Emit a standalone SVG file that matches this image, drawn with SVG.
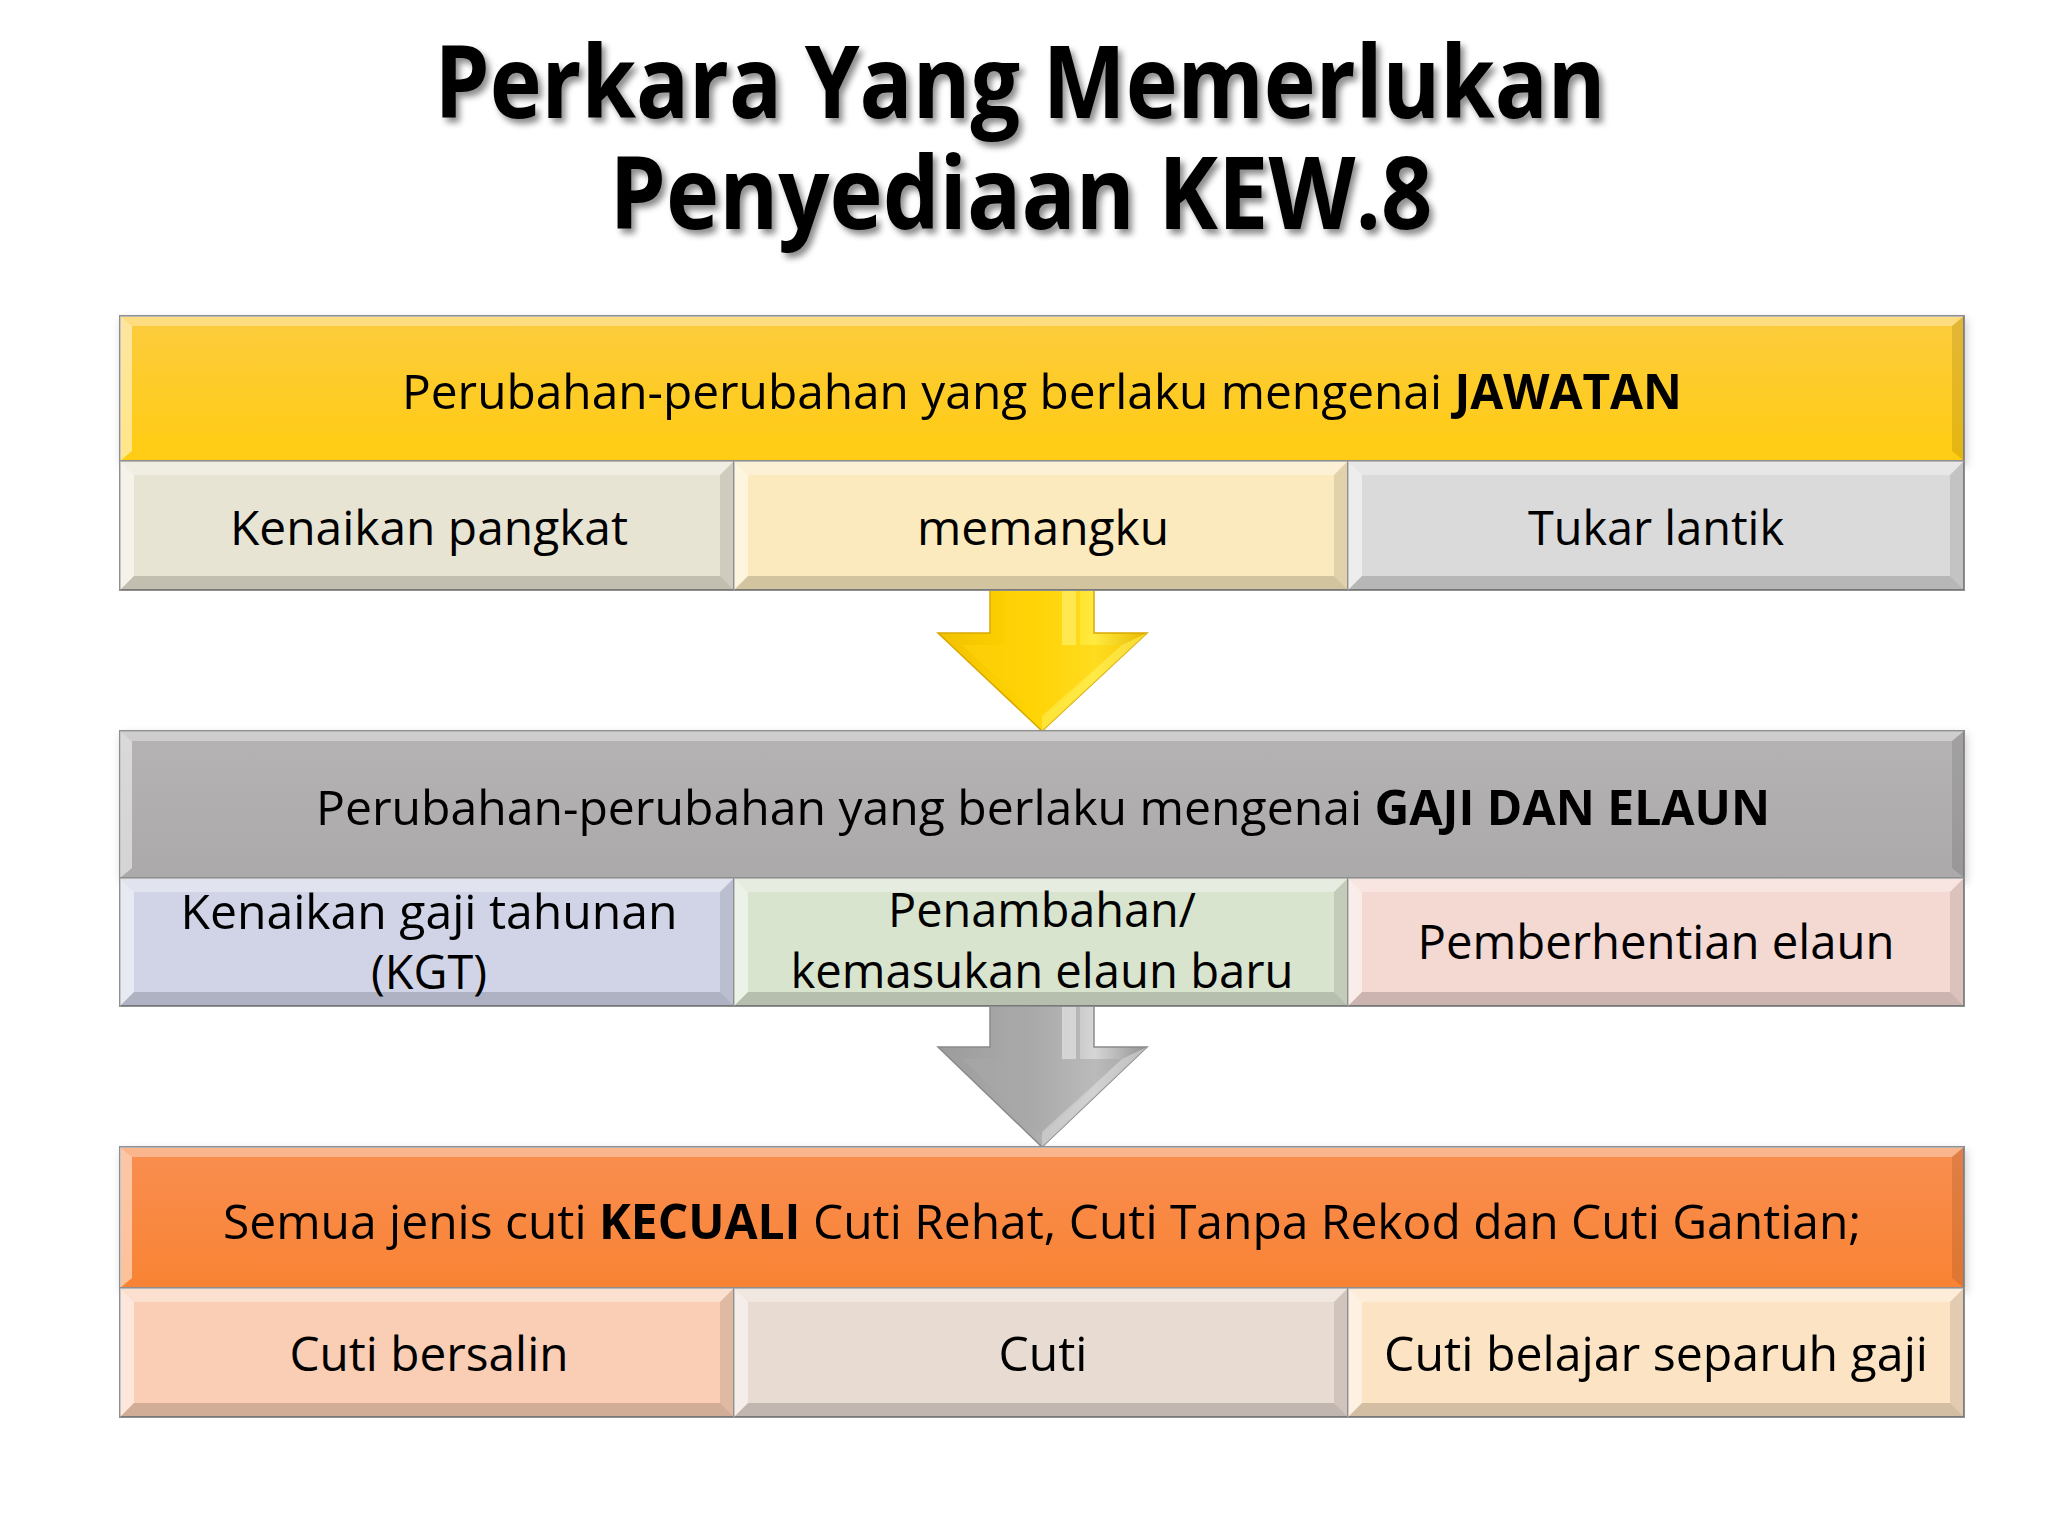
<svg xmlns="http://www.w3.org/2000/svg" width="2048" height="1536" viewBox="0 0 2048 1536">
<defs>
<style>
.title{font-family:"Open Sans","Noto Sans",sans-serif;font-weight:bold;font-size:100px;fill:#000;text-anchor:middle}
.t{font-family:"Open Sans","Noto Sans",sans-serif;font-size:48px;fill:#000;text-anchor:middle}
.b{font-weight:bold}
.bt{fill:#fff;fill-opacity:0.35}
.bl{fill:#fff;fill-opacity:0.5}
.br{fill:#000;fill-opacity:0.1}
.bb{fill:#000;fill-opacity:0.16}
.cell{stroke:#8f8f8f;stroke-width:2}
</style>
<linearGradient id="gY" x1="0" y1="0" x2="0" y2="1"><stop offset="0" stop-color="#FCCB3E"/><stop offset="1" stop-color="#FFCC11"/></linearGradient>
<linearGradient id="gG" x1="0" y1="0" x2="0" y2="1"><stop offset="0" stop-color="#B5B3B3"/><stop offset="1" stop-color="#ABA9A9"/></linearGradient>
<linearGradient id="gO" x1="0" y1="0" x2="0" y2="1"><stop offset="0" stop-color="#F98E50"/><stop offset="1" stop-color="#F98334"/></linearGradient>
<linearGradient id="aY" x1="0" y1="0" x2="1" y2="0"><stop offset="0" stop-color="#F2C200"/><stop offset="0.45" stop-color="#FFD400"/><stop offset="0.75" stop-color="#FFEA40"/><stop offset="1" stop-color="#E8B800"/></linearGradient>
<linearGradient id="aG" x1="0" y1="0" x2="1" y2="0"><stop offset="0" stop-color="#9C9C9C"/><stop offset="0.45" stop-color="#AAAAAA"/><stop offset="0.75" stop-color="#D6D6D6"/><stop offset="1" stop-color="#929292"/></linearGradient>
<filter id="ts" x="-5%" y="-20%" width="110%" height="140%"><feDropShadow dx="4" dy="5" stdDeviation="3" flood-color="#000" flood-opacity="0.45"/></filter>
<filter id="bs" x="-2%" y="-5%" width="104%" height="115%"><feDropShadow dx="2" dy="4" stdDeviation="4" flood-color="#000" flood-opacity="0.18"/></filter>
</defs>
<rect width="2048" height="1536" fill="#fff"/>

<g id="title" filter="url(#ts)">
<text class="title" x="1020" y="118" textLength="1171" lengthAdjust="spacingAndGlyphs">Perkara Yang Memerlukan</text>
<text class="title" x="1021" y="229" textLength="823" lengthAdjust="spacingAndGlyphs">Penyediaan KEW.8</text>
</g>

<g id="connectors">
<g id="arrow1">
<polygon points="990,590 1094,590 1094,633 1147,633 1042,731 938,633 990,633" fill="url(#aY)" stroke="#D9A800" stroke-width="1.5"/>
<polygon points="1004,590 1080,590 1080,645 1122,645 1042,720 962,645 1004,645" fill="#FFD20A" fill-opacity="0.6"/>
<rect x="1062" y="590" width="14" height="55" fill="#FFF06A" fill-opacity="0.7"/>
<polygon points="1122,645 1147,633 1042,731 1042,716" fill="#FFE94A" fill-opacity="0.7"/>
</g>
<g id="arrow2">
<polygon points="990,1006 1094,1006 1094,1047 1147,1047 1042,1147 938,1047 990,1047" fill="url(#aG)" stroke="#8a8a8a" stroke-width="1.5"/>
<polygon points="1004,1006 1080,1006 1080,1059 1122,1059 1042,1136 962,1059 1004,1059" fill="#A9A9A9" fill-opacity="0.6"/>
<rect x="1062" y="1006" width="14" height="53" fill="#E2E2E2" fill-opacity="0.7"/>
<polygon points="1122,1059 1147,1047 1042,1147 1042,1132" fill="#D0D0D0" fill-opacity="0.7"/>
</g>
</g>

<!-- Section 1 -->
<g id="jawatan" filter="url(#bs)">
<rect class="cell" x="120" y="316" width="1844" height="145" fill="url(#gY)" stroke="#d9a520"/>
<polygon class="bt" points="120,316 1964,316 1952,326 132,326"/>
<polygon class="bl" points="120,316 132,326 132,451 120,461"/>
<polygon class="br" points="1964,316 1964,461 1952,451 1952,326"/>
<text class="t" x="1042" y="409" textLength="1280" lengthAdjust="spacingAndGlyphs">Perubahan-perubahan yang berlaku mengenai <tspan class="b">JAWATAN</tspan></text>
</g>
<g id="kenaikan-pangkat">
<rect class="cell" x="120" y="461" width="614" height="129" fill="#E8E4D3"/>
<polygon class="bt" points="120,461 734,461 720,475 134,475"/>
<polygon class="bl" points="120,461 134,475 134,576 120,590"/>
<polygon class="br" points="734,461 734,590 720,576 720,475"/>
<polygon class="bb" points="120,590 734,590 720,576 134,576"/>
<text class="t" x="429" y="545" textLength="398" lengthAdjust="spacingAndGlyphs">Kenaikan pangkat</text>
</g>
<g id="memangku">
<rect class="cell" x="734" y="461" width="614" height="129" fill="#FCEABF"/>
<polygon class="bt" points="734,461 1348,461 1334,475 748,475"/>
<polygon class="bl" points="734,461 748,475 748,576 734,590"/>
<polygon class="br" points="1348,461 1348,590 1334,576 1334,475"/>
<polygon class="bb" points="734,590 1348,590 1334,576 748,576"/>
<text class="t" x="1043" y="545" textLength="252" lengthAdjust="spacingAndGlyphs">memangku</text>
</g>
<g id="tukar-lantik">
<rect class="cell" x="1348" y="461" width="616" height="129" fill="#DADADA"/>
<polygon class="bt" points="1348,461 1964,461 1950,475 1362,475"/>
<polygon class="bl" points="1348,461 1362,475 1362,576 1348,590"/>
<polygon class="br" points="1964,461 1964,590 1950,576 1950,475"/>
<polygon class="bb" points="1348,590 1964,590 1950,576 1362,576"/>
<text class="t" x="1656" y="545" textLength="256" lengthAdjust="spacingAndGlyphs">Tukar lantik</text>
</g>

<!-- Section 2 -->
<g id="gaji-elaun" filter="url(#bs)">
<rect class="cell" x="120" y="731" width="1844" height="147" fill="url(#gG)"/>
<polygon class="bt" points="120,731 1964,731 1952,741 132,741"/>
<polygon class="bl" points="120,731 132,741 132,868 120,878"/>
<polygon class="br" points="1964,731 1964,878 1952,868 1952,741"/>
<text class="t" x="1043" y="825" textLength="1454" lengthAdjust="spacingAndGlyphs">Perubahan-perubahan yang berlaku mengenai <tspan class="b">GAJI DAN ELAUN</tspan></text>
</g>
<g id="kgt">
<rect class="cell" x="120" y="878" width="614" height="128" fill="#D1D4E7"/>
<polygon class="bt" points="120,878 734,878 720,892 134,892"/>
<polygon class="bl" points="120,878 134,892 134,992 120,1006"/>
<polygon class="br" points="734,878 734,1006 720,992 720,892"/>
<polygon class="bb" points="120,1006 734,1006 720,992 134,992"/>
<text class="t" x="429" y="929" textLength="497" lengthAdjust="spacingAndGlyphs">Kenaikan gaji tahunan</text>
<text class="t" x="429" y="989" textLength="116" lengthAdjust="spacingAndGlyphs">(KGT)</text>
</g>
<g id="elaun-baru">
<rect class="cell" x="734" y="878" width="614" height="128" fill="#D9E4CF"/>
<polygon class="bt" points="734,878 1348,878 1334,892 748,892"/>
<polygon class="bl" points="734,878 748,892 748,992 734,1006"/>
<polygon class="br" points="1348,878 1348,1006 1334,992 1334,892"/>
<polygon class="bb" points="734,1006 1348,1006 1334,992 748,992"/>
<text class="t" x="1042" y="927" textLength="308" lengthAdjust="spacingAndGlyphs">Penambahan/</text>
<text class="t" x="1042" y="988" textLength="503" lengthAdjust="spacingAndGlyphs">kemasukan elaun baru</text>
</g>
<g id="pemberhentian-elaun">
<rect class="cell" x="1348" y="878" width="616" height="128" fill="#F4D8D2"/>
<polygon class="bt" points="1348,878 1964,878 1950,892 1362,892"/>
<polygon class="bl" points="1348,878 1362,892 1362,992 1348,1006"/>
<polygon class="br" points="1964,878 1964,1006 1950,992 1950,892"/>
<polygon class="bb" points="1348,1006 1964,1006 1950,992 1362,992"/>
<text class="t" x="1656" y="959" textLength="477" lengthAdjust="spacingAndGlyphs">Pemberhentian elaun</text>
</g>

<!-- Section 3 -->
<g id="cuti" filter="url(#bs)">
<rect class="cell" x="120" y="1147" width="1844" height="141" fill="url(#gO)" stroke="#d77a40"/>
<polygon class="bt" points="120,1147 1964,1147 1952,1157 132,1157"/>
<polygon class="bl" points="120,1147 132,1157 132,1278 120,1288"/>
<polygon class="br" points="1964,1147 1964,1288 1952,1278 1952,1157"/>
<text class="t" x="1042" y="1239" textLength="1638" lengthAdjust="spacingAndGlyphs">Semua jenis cuti <tspan class="b">KECUALI</tspan> Cuti Rehat, Cuti Tanpa Rekod dan Cuti Gantian;</text>
</g>
<g id="cuti-bersalin">
<rect class="cell" x="120" y="1288" width="614" height="129" fill="#F9CEB5" stroke="#c98660"/>
<polygon class="bt" points="120,1288 734,1288 720,1302 134,1302"/>
<polygon class="bl" points="120,1288 134,1302 134,1403 120,1417"/>
<polygon class="br" points="734,1288 734,1417 720,1403 720,1302"/>
<polygon class="bb" points="120,1417 734,1417 720,1403 134,1403"/>
<text class="t" x="429" y="1371" textLength="279" lengthAdjust="spacingAndGlyphs">Cuti bersalin</text>
</g>
<g id="cuti-2">
<rect class="cell" x="734" y="1288" width="614" height="129" fill="#E8DBD2" stroke="#b89e8c"/>
<polygon class="bt" points="734,1288 1348,1288 1334,1302 748,1302"/>
<polygon class="bl" points="734,1288 748,1302 748,1403 734,1417"/>
<polygon class="br" points="1348,1288 1348,1417 1334,1403 1334,1302"/>
<polygon class="bb" points="734,1417 1348,1417 1334,1403 748,1403"/>
<text class="t" x="1043" y="1371" textLength="89" lengthAdjust="spacingAndGlyphs">Cuti</text>
</g>
<g id="cuti-belajar">
<rect class="cell" x="1348" y="1288" width="616" height="129" fill="#FCE3C4" stroke="#c98660"/>
<polygon class="bt" points="1348,1288 1964,1288 1950,1302 1362,1302"/>
<polygon class="bl" points="1348,1288 1362,1302 1362,1403 1348,1417"/>
<polygon class="br" points="1964,1288 1964,1417 1950,1403 1950,1302"/>
<polygon class="bb" points="1348,1417 1964,1417 1950,1403 1362,1403"/>
<text class="t" x="1656" y="1371" textLength="544" lengthAdjust="spacingAndGlyphs">Cuti belajar separuh gaji</text>
</g>
</svg>
